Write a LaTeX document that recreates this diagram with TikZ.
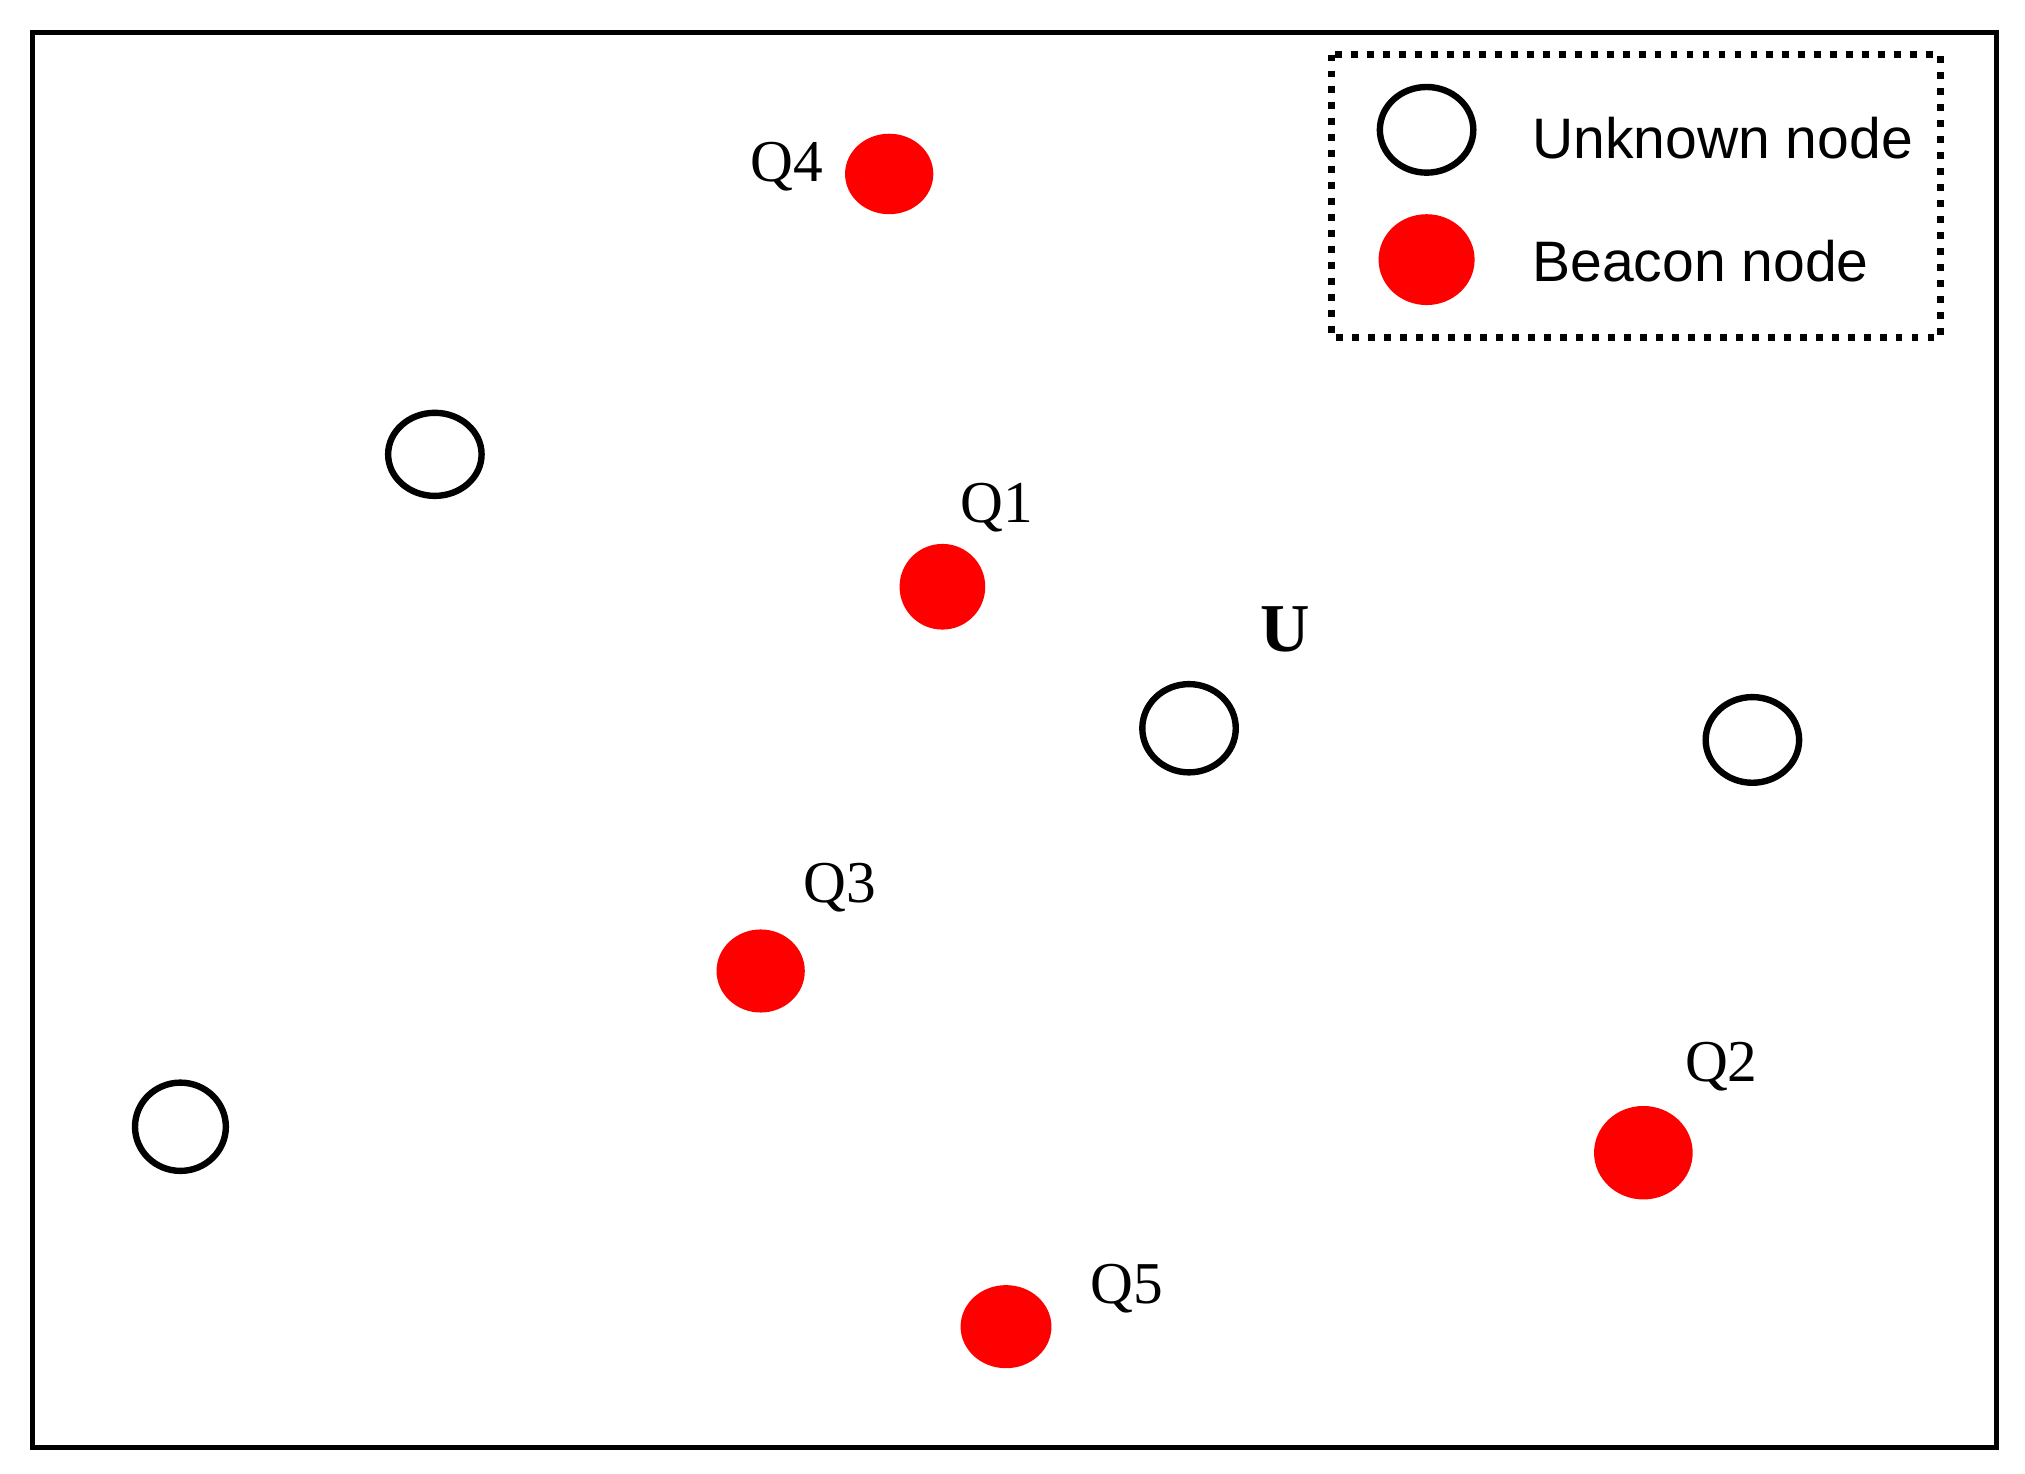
\documentclass[tikz,border=0pt]{standalone}
\usepackage{fontspec}
\setmainfont{Liberation Serif}
\newfontfamily\legfont{Liberation Sans}
\begin{document}
\begin{tikzpicture}[x=0.01cm,y=-0.01cm,
  unk/.style={draw=black,line width=1.4pt,fill=white},
  bcn/.style={fill=red,draw=none},
  lbl/.style={font=\fontsize{13}{15}\selectfont},
  leg/.style={font=\legfont\fontsize{12.5}{15}\selectfont,anchor=west}]
\useasboundingbox (0,0) rectangle (1560,1135);
\draw[line width=1.2pt] (25,25) rectangle (1538,1115);
\draw[line width=1.5pt,dotted] (1026,42) rectangle (1495,260);
% legend
\draw[unk] (1099,100) ellipse [x radius=36,y radius=33];
\fill[bcn] (1099,200) ellipse [x radius=37,y radius=35];
\node[leg] (lu) at (1168,106) {Unknown node};
\node[leg] (lb) at (1168,201) {Beacon node};
% unknown nodes
\draw[unk] (335,350) ellipse [x radius=36,y radius=32];
\draw[unk] (916,561) ellipse [x radius=36,y radius=34];
\draw[unk] (1350,570) ellipse [x radius=36,y radius=33];
\draw[unk] (139,868) ellipse [x radius=35,y radius=34];
% beacons
\fill[bcn] (685,134) ellipse [x radius=34,y radius=31];
\fill[bcn] (726,452) ellipse [x radius=33,y radius=33];
\fill[bcn] (586,748) ellipse [x radius=34,y radius=32];
\fill[bcn] (1266,888) ellipse [x radius=38,y radius=36];
\fill[bcn] (775,1022) ellipse [x radius=35,y radius=32];
% labels
\node[lbl] (q4) at (606,128) {Q4};
\node[lbl] (q1) at (768,391) {Q1};
\node[font=\bfseries\fontsize{15}{17}\selectfont] (u) at (990,485) {U};
\node[lbl] (q3) at (647,684) {Q3};
\node[lbl] (q2) at (1326,822) {Q2};
\node[lbl] (q5) at (868,993) {Q5};
\end{tikzpicture}
\end{document}
